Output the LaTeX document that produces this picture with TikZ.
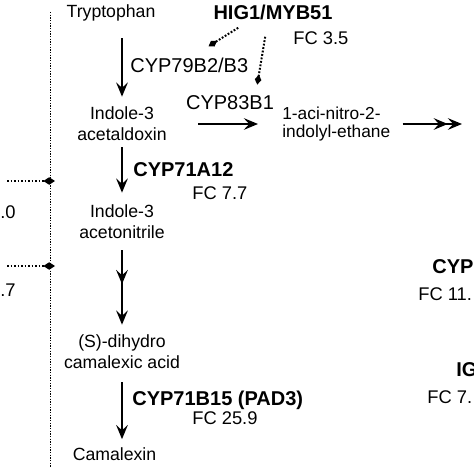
\documentclass[tikz,border=0pt]{standalone}
\usepackage{fontspec}
\setmainfont{Liberation Sans}
\usetikzlibrary{arrows.meta,calc,decorations.markings}
\tikzset{
  >={Stealth[length=8.5pt, width=7pt, inset=3.2pt]},
  met/.style={align=center, inner sep=0pt, font=\fontsize{10.6}{12.6}\selectfont},
  enz/.style={inner sep=0pt, anchor=west, font=\fontsize{12}{14}\selectfont},
  benz/.style={enz, font=\fontsize{12}{14}\selectfont\bfseries},
  fc/.style={inner sep=0pt, anchor=west, font=\fontsize{11}{13}\selectfont},
  flow/.style={->, line width=1.2pt},
  reg/.style={-{Diamond[length=6pt, width=4pt]}, line width=1.2pt, dash pattern=on 1.1pt off 1pt},
  divider/.style={line width=0.6pt, dash pattern=on 0.8pt off 0.8pt},
  midhead/.style={postaction={decorate},
    decoration={markings, mark=at position #1 with {\arrow{>}}}}
}

\begin{document}
\begin{tikzpicture}[x=0.6pt, y=-0.6pt]
\useasboundingbox (0,0) rectangle (474,474);
\clip (0,0) rectangle (474,474);
\def\xm{122}
% separator and cut-off side labels
\coordinate (sepT) at (50,12);
\coordinate (sepB) at (50,467);
\draw[divider] (sepT) -- (sepB);
\coordinate (inA) at (7,181);  \coordinate (hitA) at (55,181);
\coordinate (inB) at (7,266);  \coordinate (hitB) at (55,266);
\draw[reg, -{Diamond[length=7pt, width=4.5pt]}] (inA) -- (hitA);
\draw[reg, -{Diamond[length=7pt, width=4.5pt]}] (inB) -- (hitB);
\node[fc, anchor=east] (fcL1) at (16,212) {FC 1.0};
\node[fc, anchor=east] (fcL2) at (16,290) {FC 1.7};
\node[benz] (cypR) at (432,267) {CYP};
\node[fc] (fcR1) at (418,294) {FC 11.};
\node[benz] (igR) at (456,370) {IG};
\node[fc] (fcR2) at (427,397) {FC 7.};
% main column: metabolites
\node[met] (trp) at (111,13) {Tryptophan};
\node[met] (ald) at (\xm,124) {Indole-3\\acetaldoxin};
\node[met] (nit) at (\xm,222) {Indole-3\\acetonitrile};
\node[met] (dih) at (\xm,352) {(S)-dihydro\\camalexic acid};
\node[met] (cam) at (114.5,454) {Camalexin};
\node[met, align=left, anchor=west, font=\fontsize{10.4}{10.6}\selectfont] (aci) at (282,124) {1-aci-nitro-2-\\indolyl-ethane};
\coordinate (beyond) at (462,124);
% enzymes and fold changes
\node[benz, anchor=center] (hig) at (273,12) {HIG1/MYB51};
\node[fc] (fcH) at (293,38) {FC 3.5};
\node[enz] (cypA) at (130,65) {CYP79B2/B3};
\node[enz, anchor=center] (cypB) at (230,103) {CYP83B1};
\node[benz] (cypC) at (133,170) {CYP71A12};
\node[fc] (fcC) at (192,193) {FC 7.7};
\node[benz] (cypD) at (132,400) {CYP71B15 (PAD3)};
\node[fc] (fcD) at (192,418) {FC 25.9};
% pathway arrows
\draw[flow, shorten <=10pt, shorten >=6pt] (trp.south -| ald) -- (ald.north);
\draw[flow, shorten <=3.6pt, shorten >=7.2pt] (ald) -- (nit);
\draw[flow, midhead=0.47, shorten <=6.6pt, shorten >=6pt] (nit) -- (dih);
\draw[flow, shorten <=7.8pt, shorten >=4.8pt] (dih.south) -- (cam.north -| dih);
\draw[flow, shorten <=18.6pt, shorten >=14.4pt] (ald) -- (aci);
\draw[flow, -{Stealth[length=8.5pt, width=7pt, inset=3.2pt]Stealth[length=8.5pt, width=7pt, inset=3.2pt]}, shorten <=7.2pt] (aci) -- (beyond);
% regulation by HIG1/MYB51
\draw[reg] ($(hig.south west)+(25,8)$) -- ($(cypA.north east)+(-40,-11)$);
\draw[reg] ($(hig.south west)+(52,17)$) -- ($(cypB.north east)+(-17,-11)$);
\end{tikzpicture}
\end{document}
